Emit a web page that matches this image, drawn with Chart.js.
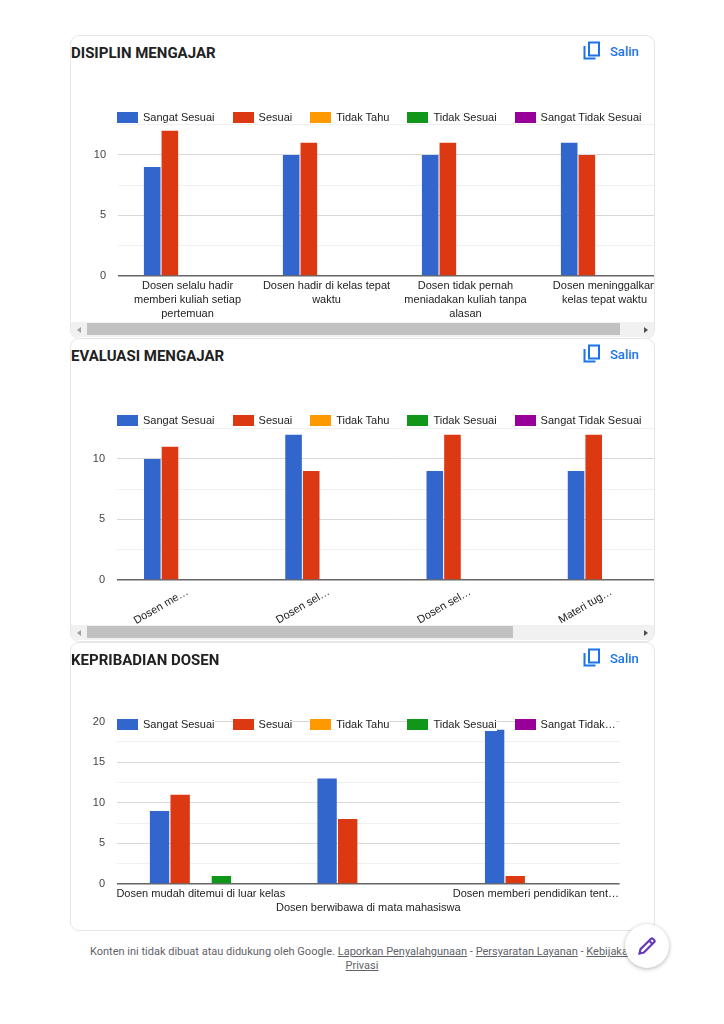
<!DOCTYPE html>
<html lang="id">
<head>
<meta charset="utf-8">
<title>Ringkasan</title>
<script src="https://cdn.jsdelivr.net/npm/chart.js@4"></script>
<style>
  html, body { margin: 0; background: #fff; }
  body { position: relative; width: 724px; height: 1024px; overflow: hidden; font-family: Roboto, sans-serif; }
  .card { position: absolute; left: 70px; width: 583px; border: 1px solid #e6e6e6; border-radius: 9px; overflow: hidden; background: #fff; }
  .title { position: absolute; left: 0; top: 7px; font-weight: 700; font-size: 15px; line-height: 20px; color: #212121; white-space: nowrap; }
  .copy { position: absolute; left: 512px; top: 5px; display: flex; align-items: center; color: #1a73e8; font-size: 13px; font-weight: 500; }
  .copy span { margin-left: 9px; }
  .plot { position: absolute; left: 0; }
  .legend { position: absolute; left: 46px; display: flex; white-space: nowrap; font: 11px "Liberation Sans", Arial, sans-serif; color: #222; line-height: 14px; }
  .legend div { display: flex; align-items: center; flex: none; background: #fff; margin-right: 18px; }
  .legend i { width: 21px; height: 11px; margin-right: 5px; display: block; }
  .bar { position: absolute; left: 0; right: 0; height: 15px; background: #f1f1f1; }
  .bar b { position: absolute; top: 1px; height: 12px; background: #c1c1c1; }
  .bar u { position: absolute; top: 5px; width: 0; height: 0; border-top: 3px solid transparent; border-bottom: 3px solid transparent; }
  .bar .l { left: 6px; border-right: 4px solid #a0a0a0; }
  .bar .r { right: 6px; border-left: 4px solid #505050; }
  #footer { position: absolute; left: 62px; width: 600px; top: 945px; text-align: center; font-size: 11px; line-height: 13.500px; color: #5f6368; }
  #footer a { color: #5f6368; text-decoration: underline; }
  #fab { position: absolute; left: 625px; top: 924px; width: 44px; height: 44px; border-radius: 50%; background: #fff; box-shadow: 0 1px 4px rgba(0,0,0,.3); display: flex; align-items: center; justify-content: center; }
</style>
</head>
<body>
<div id="page"></div>
<div id="footer">Konten ini tidak dibuat atau didukung oleh Google. <a>Laporkan Penyalahgunaan</a> - <a>Persyaratan Layanan</a> - <a>Kebijakan</a><br><a>Privasi</a></div>
<div id="fab"><svg width="20" height="20" viewBox="0 0 24 24"><path d="M3 21l1.2-5.2L16.5 3.500a2 2 0 0 1 2.800 0l1.200 1.200a2 2 0 0 1 0 2.800L8.200 19.800z M14.500 5.500l4 4" fill="none" stroke="#673ab7" stroke-width="2.600"/></svg></div>
<script>
const seriesNames = ["Sangat Sesuai", "Sesuai", "Tidak Tahu", "Tidak Sesuai", "Sangat Tidak Sesuai"];
const seriesNamesShort = ["Sangat Sesuai", "Sesuai", "Tidak Tahu", "Tidak Sesuai", "Sangat Tidak…"];
const seriesColors = ["#3366cc", "#dc3912", "#ff9900", "#109618", "#990099"];

// DISIPLIN MENGAJAR
const disiplinLabels = [
  ["Dosen selalu hadir", "memberi kuliah setiap", "pertemuan"],
  ["Dosen hadir di kelas tepat", "waktu"],
  ["Dosen tidak pernah", "meniadakan kuliah tanpa", "alasan"],
  ["Dosen meninggalkan", "kelas tepat waktu"],
];
const disiplinSangatSesuai = [9, 10, 10, 11];
const disiplinSesuai = [12, 11, 11, 10];
const disiplinTidakTahu = [0, 0, 0, 0];
const disiplinTidakSesuai = [0, 0, 0, 0];
const disiplinSangatTidak = [0, 0, 0, 0];

// EVALUASI MENGAJAR
const evaluasiLabels = ["Dosen me…", "Dosen sel…", "Dosen sel…", "Materi tug…"];
const evaluasiSangatSesuai = [10, 12, 9, 9];
const evaluasiSesuai = [11, 9, 12, 12];
const evaluasiTidakTahu = [0, 0, 0, 0];
const evaluasiTidakSesuai = [0, 0, 0, 0];
const evaluasiSangatTidak = [0, 0, 0, 0];

// KEPRIBADIAN DOSEN
const kepribadianLabels = [
  "Dosen mudah ditemui di luar kelas",
  ["", "Dosen berwibawa di mata mahasiswa"],
  "Dosen memberi pendidikan tent…",
];
const kepribadianSangatSesuai = [9, 13, 19];
const kepribadianSesuai = [11, 8, 1];
const kepribadianTidakTahu = [0, 0, 0];
const kepribadianTidakSesuai = [1, 0, 0];
const kepribadianSangatTidak = [0, 0, 0];

const yMaxSmall = 12.5;
const yMaxLarge = 20;

const page = document.getElementById("page");

function addCard(o) {
  const card = document.createElement("div");
  card.className = "card";
  card.style.top = o.top + "px";
  card.style.height = o.height + "px";
  card.innerHTML =
    '<div class="title">' + o.title + "</div>" +
    '<div class="copy"><svg width="18" height="20" viewBox="0 0 18 20"><path d="M6 1.500h10v13H6z M1.500 5v12.500h11" fill="none" stroke="#1a73e8" stroke-width="2"/></svg><span>Salin</span></div>' +
    '<div class="plot" style="top:' + o.canvasTop + "px;left:" + o.canvasLeft + 'px"><canvas></canvas></div>';

  const legend = document.createElement("div");
  legend.className = "legend";
  legend.style.top = o.legendTop + "px";
  o.names.forEach(function (name, i) {
    const item = document.createElement("div");
    item.innerHTML = '<i style="background:' + seriesColors[i] + '"></i>' + name;
    legend.appendChild(item);
  });
  card.appendChild(legend);

  if (o.thumb) {
    const bar = document.createElement("div");
    bar.className = "bar";
    bar.style.top = o.height - 16 + "px";
    bar.innerHTML = '<u class="l"></u><b style="left:16px;width:' + o.thumb + 'px"></b><u class="r"></u>';
    card.appendChild(bar);
  }
  page.appendChild(card);

  const canvas = card.querySelector("canvas");
  canvas.width = o.width;
  canvas.height = o.canvasHeight;
  canvas.style.display = "block";

  new Chart(canvas, {
    type: "bar",
    data: {
      labels: o.labels,
      datasets: o.values.map(function (vals, i) {
        return {
          label: seriesNames[i],
          data: vals,
          backgroundColor: seriesColors[i],
          barPercentage: 0.94,
          categoryPercentage: o.groupWidth,
        };
      }),
    },
    options: {
      responsive: false,
      animation: false,
      layout: { padding: 0 },
      plugins: { legend: { display: false }, tooltip: { enabled: false } },
      scales: {
        x: {
          afterFit: function (scale) { scale.height = 46; },
          grid: { display: false, drawTicks: false },
          border: { display: false },
          ticks: {
            autoSkip: false,
            minRotation: o.rotation,
            maxRotation: o.rotation,
            padding: o.rotation ? 5 : 3,
            color: "#222",
            font: { family: "Liberation Sans", size: 11, lineHeight: 1.27 },
          },
        },
        y: {
          min: 0,
          max: o.yMax,
          afterFit: function (scale) { scale.width = 46; },
          grid: {
            drawTicks: false,
            color: function (c) {
              if (c.tick.value === 0) return "#666";
              return c.tick.value % 5 === 0 ? "#d8d8d8" : "#f0f0f0";
            },
            lineWidth: function (c) { return c.tick.value === 0 ? 1.5 : 1; },
          },
          border: { display: false },
          ticks: {
            stepSize: 2.5,
            autoSkip: false,
            padding: 12,
            color: "#444",
            font: { family: "Liberation Sans", size: 11 },
            callback: function (v) { return v % 5 === 0 ? v : ""; },
          },
        },
      },
    },
  });
}

addCard({
  title: "DISIPLIN MENGAJAR", top: 35, height: 302, canvasTop: 70, canvasLeft: 1, canvasHeight: 216, width: 602,
  legendTop: 74, names: seriesNames, thumb: 533, groupWidth: 0.635, rotation: 0, yMax: yMaxSmall,
  labels: disiplinLabels,
  values: [disiplinSangatSesuai, disiplinSesuai, disiplinTidakTahu, disiplinTidakSesuai, disiplinSangatTidak],
});
addCard({
  title: "EVALUASI MENGAJAR", top: 338, height: 302, canvasTop: 71, canvasLeft: 0, canvasHeight: 216, width: 611,
  legendTop: 74, names: seriesNames, thumb: 426, groupWidth: 0.625, rotation: 30, yMax: yMaxSmall,
  labels: evaluasiLabels,
  values: [evaluasiSangatSesuai, evaluasiSesuai, evaluasiTidakTahu, evaluasiTidakSesuai, evaluasiSangatTidak],
});
addCard({
  title: "KEPRIBADIAN DOSEN", top: 642, height: 287, canvasTop: 60, canvasLeft: 0, canvasHeight: 227, width: 551,
  legendTop: 74, names: seriesNamesShort, thumb: 0, groupWidth: 0.615, rotation: 0, yMax: yMaxLarge,
  labels: kepribadianLabels,
  values: [kepribadianSangatSesuai, kepribadianSesuai, kepribadianTidakTahu, kepribadianTidakSesuai, kepribadianSangatTidak],
});
</script>
</body>
</html>
